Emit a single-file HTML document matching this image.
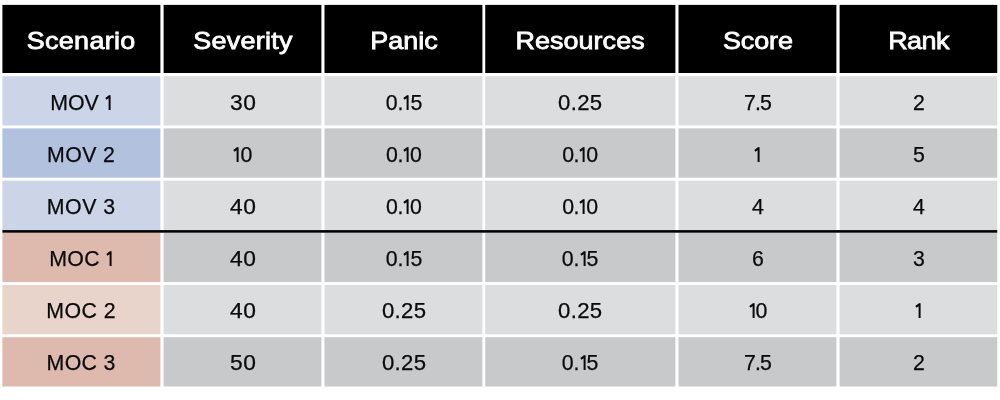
<!DOCTYPE html>
<html><head><meta charset="utf-8"><style>
html,body{margin:0;padding:0;background:#fff;width:1000px;height:400px;overflow:hidden;position:relative}
.bg{position:absolute;left:0;top:0}
.t{position:absolute;will-change:transform;text-align:center;white-space:nowrap;font-family:"Liberation Sans",sans-serif}
.h{-webkit-text-stroke:0.8px #fff}
.b{-webkit-text-stroke:0.25px #0a0a0a}
</style></head><body>
<svg class="bg" width="1000" height="400" viewBox="0 0 1000 400" shape-rendering="geometricPrecision"><rect x="2.4" y="4.9" width="158.00" height="68.10" fill="#000"/><rect x="163.6" y="4.9" width="157.80" height="68.10" fill="#000"/><rect x="324.5" y="4.9" width="157.90" height="68.10" fill="#000"/><rect x="485.25" y="4.9" width="190.15" height="68.10" fill="#000"/><rect x="678.5" y="4.9" width="157.90" height="68.10" fill="#000"/><rect x="839.6" y="4.9" width="157.65" height="68.10" fill="#000"/><rect x="2.4" y="76.2" width="158.00" height="49.30" fill="#CCD5E7"/><rect x="163.6" y="76.2" width="157.80" height="49.30" fill="#DCDDDF"/><rect x="324.5" y="76.2" width="157.90" height="49.30" fill="#DCDDDF"/><rect x="485.25" y="76.2" width="190.15" height="49.30" fill="#DCDDDF"/><rect x="678.5" y="76.2" width="157.90" height="49.30" fill="#DCDDDF"/><rect x="839.6" y="76.2" width="157.65" height="49.30" fill="#DCDDDF"/><rect x="2.4" y="128.4" width="158.00" height="49.30" fill="#B2C2DE"/><rect x="163.6" y="128.4" width="157.80" height="49.30" fill="#C8C9CB"/><rect x="324.5" y="128.4" width="157.90" height="49.30" fill="#C8C9CB"/><rect x="485.25" y="128.4" width="190.15" height="49.30" fill="#C8C9CB"/><rect x="678.5" y="128.4" width="157.90" height="49.30" fill="#C8C9CB"/><rect x="839.6" y="128.4" width="157.65" height="49.30" fill="#C8C9CB"/><rect x="2.4" y="180.6" width="158.00" height="49.50" fill="#CCD5E7"/><rect x="163.6" y="180.6" width="157.80" height="49.50" fill="#DCDDDF"/><rect x="324.5" y="180.6" width="157.90" height="49.50" fill="#DCDDDF"/><rect x="485.25" y="180.6" width="190.15" height="49.50" fill="#DCDDDF"/><rect x="678.5" y="180.6" width="157.90" height="49.50" fill="#DCDDDF"/><rect x="839.6" y="180.6" width="157.65" height="49.50" fill="#DCDDDF"/><rect x="2.4" y="232.7" width="158.00" height="49.40" fill="#DEBAAE"/><rect x="163.6" y="232.7" width="157.80" height="49.40" fill="#C8C9CB"/><rect x="324.5" y="232.7" width="157.90" height="49.40" fill="#C8C9CB"/><rect x="485.25" y="232.7" width="190.15" height="49.40" fill="#C8C9CB"/><rect x="678.5" y="232.7" width="157.90" height="49.40" fill="#C8C9CB"/><rect x="839.6" y="232.7" width="157.65" height="49.40" fill="#C8C9CB"/><rect x="2.4" y="285.0" width="158.00" height="49.30" fill="#E8D4CA"/><rect x="163.6" y="285.0" width="157.80" height="49.30" fill="#DCDDDF"/><rect x="324.5" y="285.0" width="157.90" height="49.30" fill="#DCDDDF"/><rect x="485.25" y="285.0" width="190.15" height="49.30" fill="#DCDDDF"/><rect x="678.5" y="285.0" width="157.90" height="49.30" fill="#DCDDDF"/><rect x="839.6" y="285.0" width="157.65" height="49.30" fill="#DCDDDF"/><rect x="2.4" y="337.2" width="158.00" height="49.30" fill="#DEBAAE"/><rect x="163.6" y="337.2" width="157.80" height="49.30" fill="#C8C9CB"/><rect x="324.5" y="337.2" width="157.90" height="49.30" fill="#C8C9CB"/><rect x="485.25" y="337.2" width="190.15" height="49.30" fill="#C8C9CB"/><rect x="678.5" y="337.2" width="157.90" height="49.30" fill="#C8C9CB"/><rect x="839.6" y="337.2" width="157.65" height="49.30" fill="#C8C9CB"/><rect x="2.4" y="230.1" width="994.85" height="2.60" fill="#000"/></svg>
<div class="t h" style="left:2.4px;width:158.00px;top:29.26px;font-size:24.5px;line-height:24.5px;color:#fff;transform:scaleX(1.1);letter-spacing:0.29px;text-indent:0.29px;">Scenario</div>
<div class="t h" style="left:163.6px;width:157.80px;top:29.26px;font-size:24.5px;line-height:24.5px;color:#fff;transform:scaleX(1.1);letter-spacing:0.26px;text-indent:0.26px;">Severity</div>
<div class="t h" style="left:324.5px;width:157.90px;top:29.26px;font-size:24.5px;line-height:24.5px;color:#fff;transform:scaleX(1.1);">Panic</div>
<div class="t h" style="left:485.25px;width:190.15px;top:29.26px;font-size:24.5px;line-height:24.5px;color:#fff;transform:scaleX(1.1);letter-spacing:0.04px;text-indent:0.04px;">Resources</div>
<div class="t h" style="left:678.5px;width:157.90px;top:29.26px;font-size:24.5px;line-height:24.5px;color:#fff;transform:scaleX(1.1);letter-spacing:-0.07px;text-indent:-0.07px;">Score</div>
<div class="t h" style="left:839.6px;width:157.65px;top:29.26px;font-size:24.5px;line-height:24.5px;color:#fff;transform:scaleX(1.1);letter-spacing:-0.52px;text-indent:-0.52px;">Rank</div>
<div class="t b" style="left:2.4px;width:158.00px;top:93.27px;font-size:21.3px;line-height:21.3px;color:#0a0a0a;">MOV <svg class="one" width="7.0" height="15" viewBox="0 0 7.0 15"><path d="M4.6 0.2V15M4.9 0.9L0.9 3.9" stroke="#0a0a0a" stroke-width="2.0" fill="none"/></svg></div>
<div class="t b" style="left:163.6px;width:157.80px;top:93.27px;font-size:21.3px;line-height:21.3px;color:#0a0a0a;transform:scaleX(1.07);letter-spacing:0.60px;text-indent:0.60px;">30</div>
<div class="t b" style="left:324.5px;width:157.90px;top:93.27px;font-size:21.3px;line-height:21.3px;color:#0a0a0a;">0.<svg class="one" width="7.0" height="15" viewBox="0 0 7.0 15"><path d="M4.6 0.2V15M4.9 0.9L0.9 3.9" stroke="#0a0a0a" stroke-width="2.0" fill="none"/></svg>5</div>
<div class="t b" style="left:485.25px;width:190.15px;top:93.27px;font-size:21.3px;line-height:21.3px;color:#0a0a0a;transform:scaleX(1.04);letter-spacing:0.30px;text-indent:0.30px;">0.25</div>
<div class="t b" style="left:678.5px;width:157.90px;top:93.27px;font-size:21.3px;line-height:21.3px;color:#0a0a0a;letter-spacing:-0.85px;text-indent:-0.85px;">7.5</div>
<div class="t b" style="left:839.6px;width:157.65px;top:93.27px;font-size:21.3px;line-height:21.3px;color:#0a0a0a;">2</div>
<div class="t b" style="left:2.4px;width:158.00px;top:145.27px;font-size:21.3px;line-height:21.3px;color:#0a0a0a;letter-spacing:0.40px;text-indent:0.40px;">MOV 2</div>
<div class="t b" style="left:163.6px;width:157.80px;top:145.27px;font-size:21.3px;line-height:21.3px;color:#0a0a0a;letter-spacing:1.00px;text-indent:1.00px;"><svg class="one" width="7.0" height="15" viewBox="0 0 7.0 15"><path d="M4.6 0.2V15M4.9 0.9L0.9 3.9" stroke="#0a0a0a" stroke-width="2.0" fill="none"/></svg>0</div>
<div class="t b" style="left:324.5px;width:157.90px;top:145.27px;font-size:21.3px;line-height:21.3px;color:#0a0a0a;letter-spacing:-0.40px;text-indent:-0.40px;">0.<svg class="one" width="7.0" height="15" viewBox="0 0 7.0 15"><path d="M4.6 0.2V15M4.9 0.9L0.9 3.9" stroke="#0a0a0a" stroke-width="2.0" fill="none"/></svg>0</div>
<div class="t b" style="left:485.25px;width:190.15px;top:145.27px;font-size:21.3px;line-height:21.3px;color:#0a0a0a;letter-spacing:-0.40px;text-indent:-0.40px;">0.<svg class="one" width="7.0" height="15" viewBox="0 0 7.0 15"><path d="M4.6 0.2V15M4.9 0.9L0.9 3.9" stroke="#0a0a0a" stroke-width="2.0" fill="none"/></svg>0</div>
<div class="t b" style="left:678.5px;width:157.90px;top:145.27px;font-size:21.3px;line-height:21.3px;color:#0a0a0a;"><svg class="one" width="7.0" height="15" viewBox="0 0 7.0 15"><path d="M4.6 0.2V15M4.9 0.9L0.9 3.9" stroke="#0a0a0a" stroke-width="2.0" fill="none"/></svg></div>
<div class="t b" style="left:839.6px;width:157.65px;top:145.27px;font-size:21.3px;line-height:21.3px;color:#0a0a0a;">5</div>
<div class="t b" style="left:2.4px;width:158.00px;top:197.27px;font-size:21.3px;line-height:21.3px;color:#0a0a0a;letter-spacing:0.50px;text-indent:0.50px;">MOV 3</div>
<div class="t b" style="left:163.6px;width:157.80px;top:197.27px;font-size:21.3px;line-height:21.3px;color:#0a0a0a;transform:scaleX(1.07);letter-spacing:0.60px;text-indent:0.60px;">40</div>
<div class="t b" style="left:324.5px;width:157.90px;top:197.27px;font-size:21.3px;line-height:21.3px;color:#0a0a0a;letter-spacing:-0.40px;text-indent:-0.40px;">0.<svg class="one" width="7.0" height="15" viewBox="0 0 7.0 15"><path d="M4.6 0.2V15M4.9 0.9L0.9 3.9" stroke="#0a0a0a" stroke-width="2.0" fill="none"/></svg>0</div>
<div class="t b" style="left:485.25px;width:190.15px;top:197.27px;font-size:21.3px;line-height:21.3px;color:#0a0a0a;letter-spacing:-0.40px;text-indent:-0.40px;">0.<svg class="one" width="7.0" height="15" viewBox="0 0 7.0 15"><path d="M4.6 0.2V15M4.9 0.9L0.9 3.9" stroke="#0a0a0a" stroke-width="2.0" fill="none"/></svg>0</div>
<div class="t b" style="left:678.5px;width:157.90px;top:197.27px;font-size:21.3px;line-height:21.3px;color:#0a0a0a;">4</div>
<div class="t b" style="left:839.6px;width:157.65px;top:197.27px;font-size:21.3px;line-height:21.3px;color:#0a0a0a;">4</div>
<div class="t b" style="left:2.4px;width:158.00px;top:249.27px;font-size:21.3px;line-height:21.3px;color:#0a0a0a;letter-spacing:0.30px;text-indent:0.30px;">MOC <svg class="one" width="7.0" height="15" viewBox="0 0 7.0 15"><path d="M4.6 0.2V15M4.9 0.9L0.9 3.9" stroke="#0a0a0a" stroke-width="2.0" fill="none"/></svg></div>
<div class="t b" style="left:163.6px;width:157.80px;top:249.27px;font-size:21.3px;line-height:21.3px;color:#0a0a0a;transform:scaleX(1.07);letter-spacing:0.60px;text-indent:0.60px;">40</div>
<div class="t b" style="left:324.5px;width:157.90px;top:249.27px;font-size:21.3px;line-height:21.3px;color:#0a0a0a;">0.<svg class="one" width="7.0" height="15" viewBox="0 0 7.0 15"><path d="M4.6 0.2V15M4.9 0.9L0.9 3.9" stroke="#0a0a0a" stroke-width="2.0" fill="none"/></svg>5</div>
<div class="t b" style="left:485.25px;width:190.15px;top:249.27px;font-size:21.3px;line-height:21.3px;color:#0a0a0a;">0.<svg class="one" width="7.0" height="15" viewBox="0 0 7.0 15"><path d="M4.6 0.2V15M4.9 0.9L0.9 3.9" stroke="#0a0a0a" stroke-width="2.0" fill="none"/></svg>5</div>
<div class="t b" style="left:678.5px;width:157.90px;top:249.27px;font-size:21.3px;line-height:21.3px;color:#0a0a0a;">6</div>
<div class="t b" style="left:839.6px;width:157.65px;top:249.27px;font-size:21.3px;line-height:21.3px;color:#0a0a0a;">3</div>
<div class="t b" style="left:2.4px;width:158.00px;top:301.27px;font-size:21.3px;line-height:21.3px;color:#0a0a0a;letter-spacing:0.45px;text-indent:0.45px;">MOC 2</div>
<div class="t b" style="left:163.6px;width:157.80px;top:301.27px;font-size:21.3px;line-height:21.3px;color:#0a0a0a;transform:scaleX(1.07);letter-spacing:0.60px;text-indent:0.60px;">40</div>
<div class="t b" style="left:324.5px;width:157.90px;top:301.27px;font-size:21.3px;line-height:21.3px;color:#0a0a0a;transform:scaleX(1.04);letter-spacing:0.30px;text-indent:0.30px;">0.25</div>
<div class="t b" style="left:485.25px;width:190.15px;top:301.27px;font-size:21.3px;line-height:21.3px;color:#0a0a0a;transform:scaleX(1.04);letter-spacing:0.30px;text-indent:0.30px;">0.25</div>
<div class="t b" style="left:678.5px;width:157.90px;top:301.27px;font-size:21.3px;line-height:21.3px;color:#0a0a0a;letter-spacing:1.00px;text-indent:1.00px;"><svg class="one" width="7.0" height="15" viewBox="0 0 7.0 15"><path d="M4.6 0.2V15M4.9 0.9L0.9 3.9" stroke="#0a0a0a" stroke-width="2.0" fill="none"/></svg>0</div>
<div class="t b" style="left:839.6px;width:157.65px;top:301.27px;font-size:21.3px;line-height:21.3px;color:#0a0a0a;"><svg class="one" width="7.0" height="15" viewBox="0 0 7.0 15"><path d="M4.6 0.2V15M4.9 0.9L0.9 3.9" stroke="#0a0a0a" stroke-width="2.0" fill="none"/></svg></div>
<div class="t b" style="left:2.4px;width:158.00px;top:353.27px;font-size:21.3px;line-height:21.3px;color:#0a0a0a;letter-spacing:0.35px;text-indent:0.35px;">MOC 3</div>
<div class="t b" style="left:163.6px;width:157.80px;top:353.27px;font-size:21.3px;line-height:21.3px;color:#0a0a0a;transform:scaleX(1.07);letter-spacing:0.60px;text-indent:0.60px;">50</div>
<div class="t b" style="left:324.5px;width:157.90px;top:353.27px;font-size:21.3px;line-height:21.3px;color:#0a0a0a;transform:scaleX(1.04);letter-spacing:0.30px;text-indent:0.30px;">0.25</div>
<div class="t b" style="left:485.25px;width:190.15px;top:353.27px;font-size:21.3px;line-height:21.3px;color:#0a0a0a;">0.<svg class="one" width="7.0" height="15" viewBox="0 0 7.0 15"><path d="M4.6 0.2V15M4.9 0.9L0.9 3.9" stroke="#0a0a0a" stroke-width="2.0" fill="none"/></svg>5</div>
<div class="t b" style="left:678.5px;width:157.90px;top:353.27px;font-size:21.3px;line-height:21.3px;color:#0a0a0a;letter-spacing:-0.85px;text-indent:-0.85px;">7.5</div>
<div class="t b" style="left:839.6px;width:157.65px;top:353.27px;font-size:21.3px;line-height:21.3px;color:#0a0a0a;">2</div>
</body></html>
